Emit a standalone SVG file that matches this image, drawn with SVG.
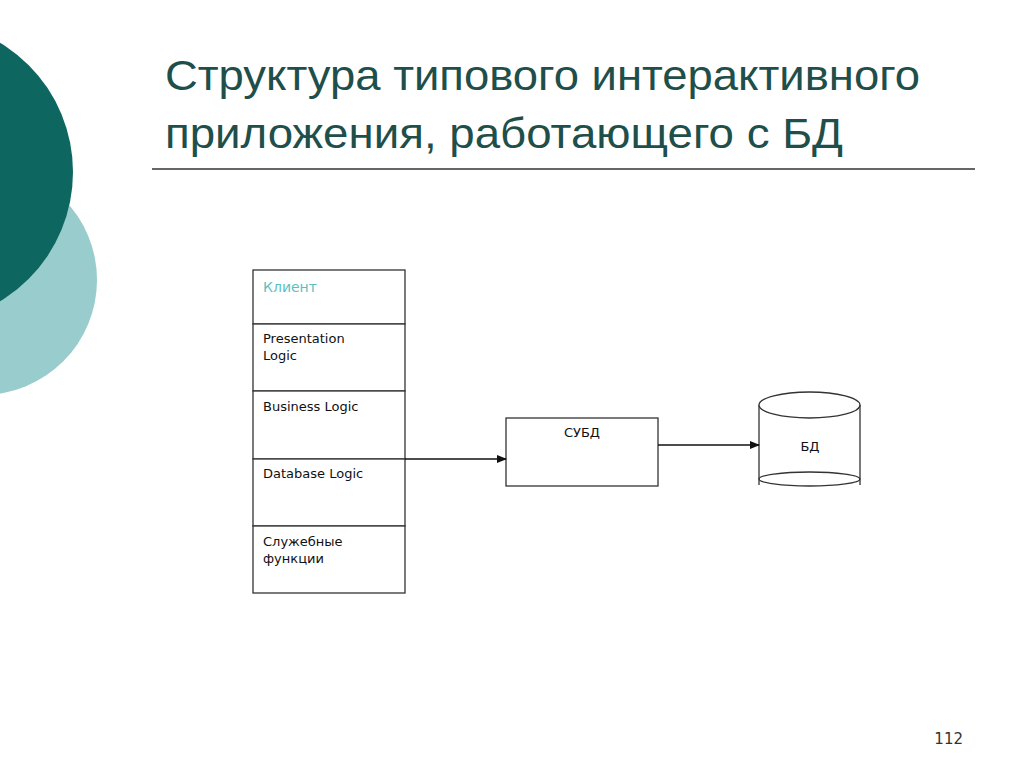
<svg xmlns="http://www.w3.org/2000/svg" width="1024" height="767" viewBox="0 0 1024 767">
<style>
.b{fill:#fff;stroke:#333;stroke-width:1.3}
.t{font-family:"DejaVu Sans",sans-serif;font-size:13px;fill:#111}
.h{font-family:"Liberation Sans",Arial,sans-serif;font-size:42px;fill:#1f4f4a}
.c{fill:none;stroke:#111;stroke-width:1.5}
</style>
<defs><marker id="a" markerWidth="10" markerHeight="8" refX="9" refY="4" orient="auto" markerUnits="userSpaceOnUse"><path d="M0,0L10,4L0,8z" fill="#111"/></marker></defs>
<rect width="1024" height="767" fill="#fff"/>
<circle cx="-18" cy="280" r="115" fill="#99cccc"/>
<circle cx="-78" cy="172" r="151" fill="#0e6660"/>
<text class="h" x="165" y="90" textLength="755" lengthAdjust="spacingAndGlyphs">Структура типового интерактивного</text>
<text class="h" x="165" y="148" textLength="678" lengthAdjust="spacingAndGlyphs">приложения, работающего с БД</text>
<line x1="152" y1="169" x2="975" y2="169" stroke="#333" stroke-width="1.3"/>
<g id="client">
<rect class="b" x="253" y="270" width="152" height="54"/>
<text x="263" y="292" class="t" style="fill:#5bbfbf;font-size:14px">Клиент</text>
<rect class="b" x="253" y="324" width="152" height="67"/>
<text class="t" x="263" y="343">Presentation</text><text class="t" x="263" y="360">Logic</text>
<rect class="b" x="253" y="391" width="152" height="68"/>
<text class="t" x="263" y="411">Business Logic</text>
<rect class="b" x="253" y="459" width="152" height="67"/>
<text class="t" x="263" y="478">Database Logic</text>
<rect class="b" x="253" y="526" width="152" height="67"/>
<text class="t" x="263" y="546">Служебные</text><text class="t" x="263" y="563">функции</text>
</g>
<g id="dbms">
<rect class="b" x="506" y="418" width="152" height="68"/>
<text class="t" x="582" y="437" text-anchor="middle">СУБД</text>
</g>
<g id="db">
<path d="M759,405V485M860,405V485" stroke="#333" stroke-width="1.3" fill="none"/>
<ellipse cx="809.5" cy="479" rx="50.5" ry="7" class="b" style="fill:none"/>
<ellipse cx="809.5" cy="405" rx="50.5" ry="13" class="b"/>
<text class="t" x="810" y="451" text-anchor="middle">БД</text>
</g>
<g id="connectors">
<line class="c" x1="405" y1="459" x2="506" y2="459" marker-end="url(#a)"/>
<line class="c" x1="658" y1="445" x2="759" y2="445" marker-end="url(#a)"/>
</g>
<text x="963" y="744" text-anchor="end" style="font-family:'DejaVu Sans',sans-serif;font-size:15px;fill:#333">112</text>
</svg>
